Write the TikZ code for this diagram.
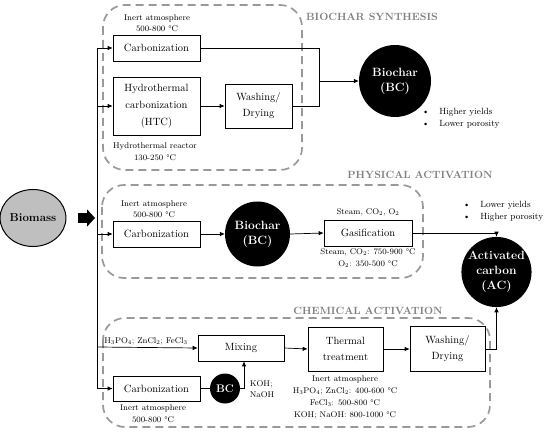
\documentclass[tikz,border=0pt]{standalone}
\usetikzlibrary{arrows.meta,shapes.geometric}
\begin{document}
\begin{tikzpicture}[x=1pt,y=-1pt,
  boxn/.style={draw,line width=0.6pt,align=center,inner sep=0pt,font=\fontsize{10.5}{16}\selectfont},
  lbl/.style={align=center,inner sep=0pt,font=\fontsize{8.3}{11.5}\selectfont},
  ttl/.style={inner sep=0pt,text=black!50,font=\fontsize{10.5}{12}\selectfont\bfseries},
  blk/.style={circle,fill=black,text=white,align=center,inner sep=0pt,font=\fontsize{12}{15}\selectfont\bfseries},
  arr/.style={line width=0.7pt,-{Latex[length=5pt,width=4.5pt]}},
  ln/.style={line width=0.7pt},
  grp/.style={draw=black!40,line width=1.7pt,dash pattern=on 8pt off 5pt,rounded corners=22pt},
  fat/.style={line width=10pt,-{Triangle[length=8pt,width=17pt]}},
  bul/.style={inner sep=0pt,anchor=west,font=\fontsize{9}{10}\selectfont}]
\useasboundingbox (0,0) rectangle (550,436);

% group frames
\draw[grp] (103,5) rectangle (302,170);
\draw[grp] (102,185) rectangle (423,278);
\draw[grp] (103,318) rectangle (490,427);

\node[ttl] (t1) at (372,17) {BIOCHAR SYNTHESIS};
\node[ttl] (t2) at (420,175) {PHYSICAL ACTIVATION};
\node[ttl] (t3) at (368,311) {CHEMICAL ACTIVATION};

% biomass
\node[ellipse,draw,line width=1pt,fill=black!25,minimum width=64pt,minimum height=57pt,inner sep=0pt,font=\fontsize{11.5}{13}\selectfont\bfseries] (bm) at (33,218) {Biomass};
\coordinate (fa1) at (78,218);
\coordinate (fa2) at (95,218);
\draw[fat] (fa1) -- (fa2);

% trunk
\coordinate (tr1) at (97,48);
\coordinate (tr2) at (97,106);
\coordinate (tr3) at (97,234);
\coordinate (tr4) at (97,347);
\coordinate (tr5) at (97,388.5);
\draw[ln] (tr1) -- (tr5);

% biochar synthesis
\node[boxn,minimum width=87pt,minimum height=26pt] (carb1) at (156.5,48) {Carbonization};
\node[lbl] (l1) at (157,23) {Inert atmosphere\\500-800 °C};
\node[boxn,minimum width=87pt,minimum height=58pt,font=\fontsize{10.5}{17}\selectfont] (htc) at (156.5,106) {Hydrothermal\\carbonization\\(HTC)};
\node[lbl] (l2) at (155,151.5) {Hydrothermal reactor\\130-250 °C};
\node[boxn,minimum width=67pt,minimum height=44pt] (wash1) at (258.5,106) {Washing/\\Drying};
\node[blk,minimum size=72pt] (bc1) at (395,81) {Biochar\\(BC)};
\coordinate (j1) at (319,81);
\draw[arr] (tr1) -- (carb1.west);
\draw[arr] (tr2) -- (htc.west);
\draw[arr] (htc.east) -- (wash1.west);
\draw[ln] (carb1.east) -| (j1);
\draw[ln] (wash1.east) -| (j1);
\draw[arr] (j1) -- (bc1.west);
\node[bul] (b1) at (422,112) {\textbullet\hspace{10pt}Higher yields};
\node[bul] (b2) at (422,124) {\textbullet\hspace{10pt}Lower porosity};

% physical activation
\node[lbl] (l3) at (154,209) {Inert atmosphere\\500-800 °C};
\node[boxn,minimum width=87pt,minimum height=26pt] (carb2) at (156.5,234) {Carbonization};
\node[blk,minimum size=65pt] (bc2) at (257.5,234) {Biochar\\(BC)};
\node[boxn,minimum width=88pt,minimum height=26pt] (gas) at (368,233) {Gasification};
\node[lbl] (l4) at (368,212) {Steam, CO\textsubscript{2}, O\textsubscript{2}};
\node[lbl] (l5) at (368,258) {Steam, CO\textsubscript{2}: 750-900 °C\\O\textsubscript{2}: 350-500 °C};
\node[blk,minimum size=70pt] (ac) at (496.5,272) {Activated\\carbon\\(AC)};
\draw[arr] (tr3) -- (carb2.west);
\draw[arr] (carb2.east) -- (bc2.west);
\draw[arr] (bc2.east) -- (gas.west);
\draw[arr] (gas.east) -| (ac.north);
\node[bul] (b3) at (463,205) {\textbullet\hspace{10pt}Lower yields};
\node[bul] (b4) at (463,217) {\textbullet\hspace{10pt}Higher porosity};

% chemical activation
\node[lbl] (l6) at (146,341) {H\textsubscript{3}PO\textsubscript{4}; ZnCl\textsubscript{2}; FeCl\textsubscript{3}};
\node[boxn,minimum width=86pt,minimum height=26pt] (mix) at (241,348) {Mixing};
\node[boxn,minimum width=87pt,minimum height=25pt] (carb3) at (156.5,388.5) {Carbonization};
\node[lbl] (l7) at (153,413.5) {Inert atmosphere\\500-800 °C};
\node[blk,minimum size=30pt,font=\fontsize{11}{13}\selectfont\bfseries] (bcs) at (225,388.5) {BC};
\node[lbl,align=left] (l8) at (262,389) {KOH;\\NaOH};
\node[boxn,minimum width=75pt,minimum height=44pt] (therm) at (345.5,349) {Thermal\\treatment};
\node[lbl,font=\fontsize{8.3}{12}\selectfont] (l9) at (345,397) {Inert atmosphere\\H\textsubscript{3}PO\textsubscript{4}; ZnCl\textsubscript{2}: 400-600 °C\\FeCl\textsubscript{3}: 500-800 °C\\KOH; NaOH: 800-1000 °C};
\node[boxn,minimum width=75pt,minimum height=45pt] (wash2) at (447.5,349) {Washing/\\Drying};
\draw[arr] (tr4) -- (mix.west);
\draw[arr] (tr5) -- (carb3.west);
\draw[ln] (carb3.east) -- (bcs.west);
\draw[arr] (bcs.east) -| ([xshift=3pt]mix.south);
\draw[arr] (mix.east) -- (therm.west);
\draw[arr] (therm.east) -- (wash2.west);
\draw[arr] (wash2.east) -| (ac.south);
\end{tikzpicture}
\end{document}
